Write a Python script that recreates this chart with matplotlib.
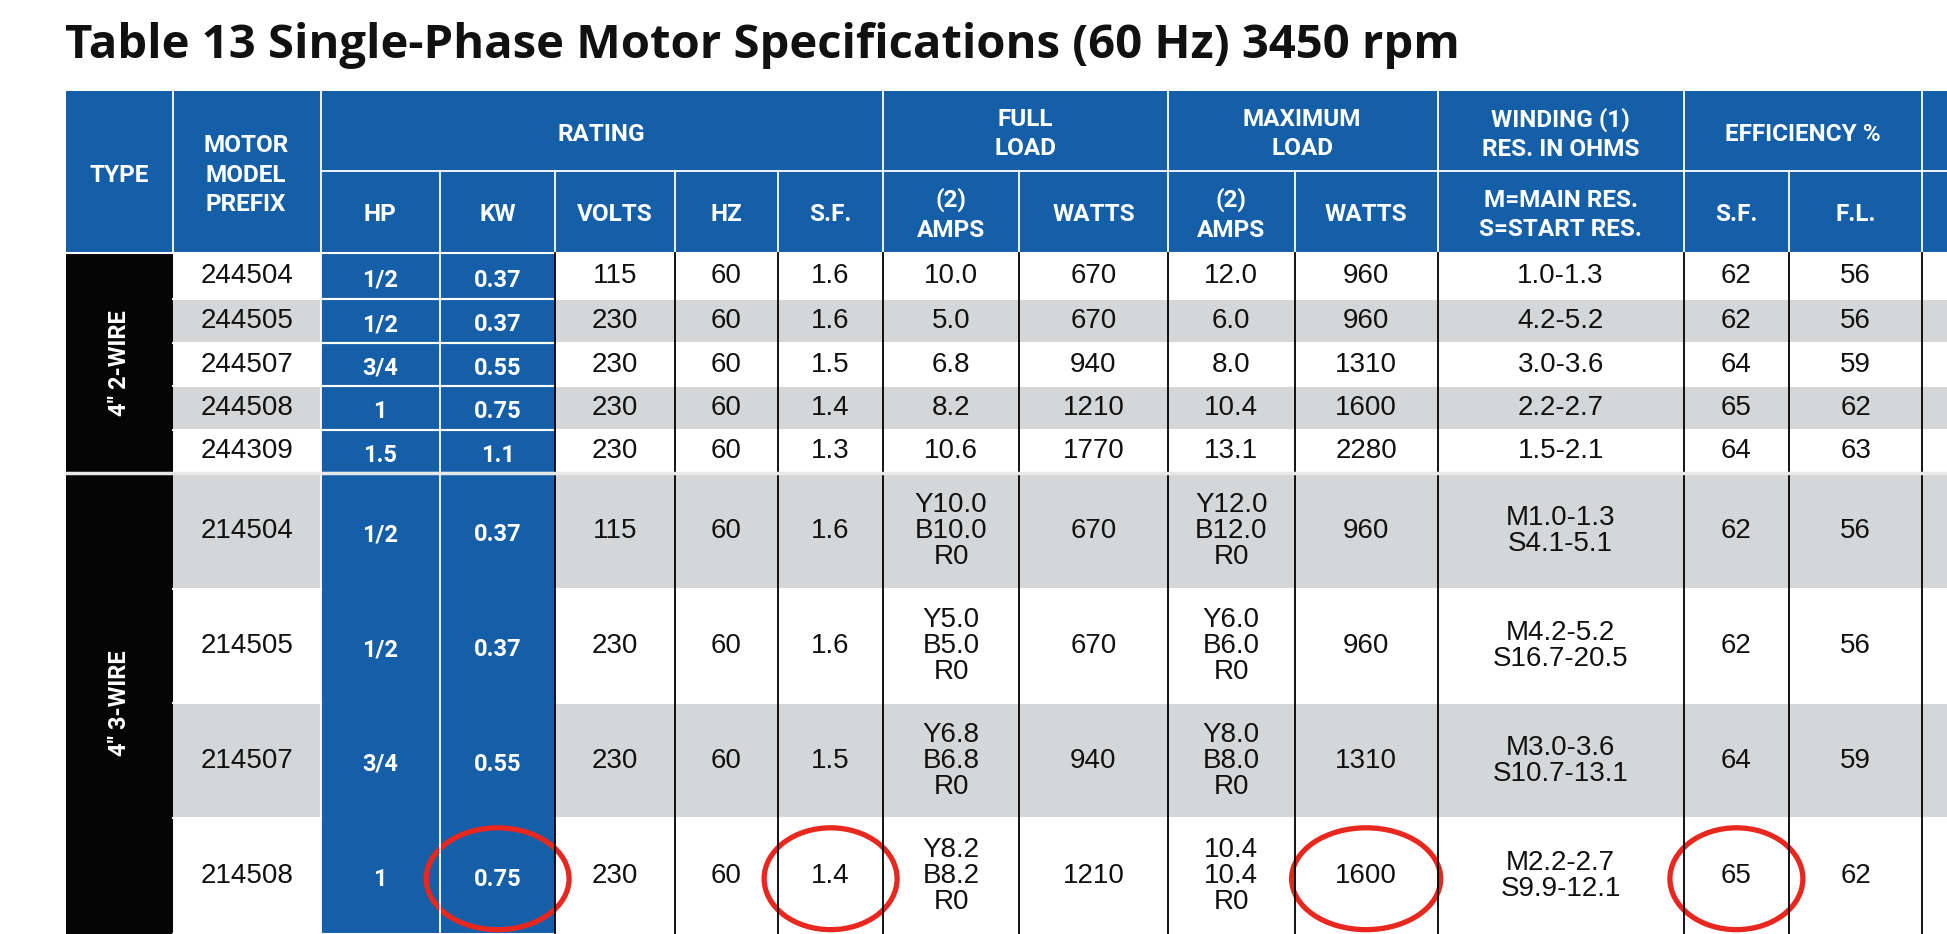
import matplotlib
matplotlib.use("Agg")
import matplotlib.pyplot as plt
from matplotlib.patches import Rectangle, Ellipse

title = "Table 13 Single-Phase Motor Specifications (60 Hz) 3450 rpm"
types = ['4" 2-WIRE', '4" 3-WIRE']
prefix = ["244504", "244505", "244507", "244508", "244309", "214504", "214505", "214507", "214508"]
hp = ["1/2", "1/2", "3/4", "1", "1.5", "1/2", "1/2", "3/4", "1"]
kw = ["0.37", "0.37", "0.55", "0.75", "1.1", "0.37", "0.37", "0.55", "0.75"]
volts = ["115", "230", "230", "230", "230", "115", "230", "230", "230"]
hz = ["60"] * 9
sf = ["1.6", "1.6", "1.5", "1.4", "1.3", "1.6", "1.6", "1.5", "1.4"]
fl_amps = ["10.0", "5.0", "6.8", "8.2", "10.6", "Y10.0\nB10.0\nR0", "Y5.0\nB5.0\nR0", "Y6.8\nB6.8\nR0", "Y8.2\nB8.2\nR0"]
fl_watts = ["670", "670", "940", "1210", "1770", "670", "670", "940", "1210"]
ml_amps = ["12.0", "6.0", "8.0", "10.4", "13.1", "Y12.0\nB12.0\nR0", "Y6.0\nB6.0\nR0", "Y8.0\nB8.0\nR0", "10.4\n10.4\nR0"]
ml_watts = ["960", "960", "1310", "1600", "2280", "960", "960", "1310", "1600"]
winding = ["1.0-1.3", "4.2-5.2", "3.0-3.6", "2.2-2.7", "1.5-2.1", "M1.0-1.3\nS4.1-5.1", "M4.2-5.2\nS16.7-20.5", "M3.0-3.6\nS10.7-13.1", "M2.2-2.7\nS9.9-12.1"]
eff_sf = ["62", "62", "64", "65", "64", "62", "62", "64", "65"]
eff_fl = ["56", "56", "59", "62", "63", "56", "56", "59", "62"]
highlight = [(2, 8), (5, 8), (9, 8), (11, 8)]  # (column index, row index) circled in red

BLUE = "#155EA8"; GRAY = "#D4D6D8"; BLACK = "#050505"
W, H = 1567, 752
fig = plt.figure(figsize=(19.47, 9.34), dpi=100)
ax = fig.add_axes([0, 0, 1, 1])
ax.set_xlim(0, W); ax.set_ylim(H, 0); ax.axis("off")

xs = [53, 139, 258, 354, 447, 543, 626, 711, 820, 940, 1042, 1157, 1355, 1440, 1547, 1567]
ys = [204, 241, 276, 311, 346, 381, 474, 566, 659, 752]
top, mid, hb = 73, 138, 204
HF = dict(color="white", fontweight="bold", fontsize=17.5, family="Roboto", ha="center", va="center", linespacing=1.35)
BF = dict(color="#111", fontsize=20, family="Liberation Sans", ha="center", va="center", linespacing=1.0)

ax.text(52, 37, title, fontsize=34, fontweight="bold", family="Open Sans", va="center", ha="left", color="#111")

ax.add_patch(Rectangle((xs[0], top), xs[-1] - xs[0], hb - top, color=BLUE, lw=0))
for x in xs[1:-1]:
    y0 = mid if x in (354, 447, 543, 626, 820, 1042, 1440) else top
    ax.plot([x, x], [y0, hb], color="white", lw=1.3)
ax.plot([258, W], [mid, mid], color="white", lw=1.3)
ax.plot([xs[0], W], [hb, hb], color="white", lw=1.5)

ax.text(96, 141, "TYPE", **HF)
ax.text(198, 141, "MOTOR\nMODEL\nPREFIX", **HF)
ax.text(484, 108, "RATING", **HF)
ax.text(825, 108, "FULL\nLOAD", **HF)
ax.text(1048, 108, "MAXIMUM\nLOAD", **HF)
ax.text(1256, 108, "WINDING (1)\nRES. IN OHMS", **HF)
ax.text(1451, 108, "EFFICIENCY %", **HF)
subs = ["HP", "KW", "VOLTS", "HZ", "S.F.", "(2)\nAMPS", "WATTS", "(2)\nAMPS", "WATTS", "M=MAIN RES.\nS=START RES.", "S.F.", "F.L."]
for i, s in enumerate(subs):
    ax.text((xs[i + 2] + xs[i + 3]) / 2, 173, s, **HF)

cols = [prefix, hp, kw, volts, hz, sf, fl_amps, fl_watts, ml_amps, ml_watts, winding, eff_sf, eff_fl]
grays = [1, 3, 5, 7]
for r in range(9):
    y0, y1 = ys[r], ys[r + 1]
    if r in grays:
        ax.add_patch(Rectangle((xs[1], y0), W - xs[1], y1 - y0, color=GRAY, lw=0))
    for c, col in enumerate(cols):
        cx = (xs[c + 1] + xs[c + 2]) / 2
        if c in (1, 2):
            ax.add_patch(Rectangle((xs[c + 1], y0), xs[c + 2] - xs[c + 1], y1 - y0, color=BLUE, lw=0))
            ax.text(cx, (y0 + y1) / 2 + 3, col[r], color="white", fontweight="bold", fontsize=17, family="Roboto", ha="center", va="center")
        else:
            ax.text(cx, (y0 + y1) / 2, col[r], **BF)
    if r < 5 or r == 8:
        ax.plot([xs[1], W], [y1, y1], color="white", lw=1.5)
    else:
        ax.plot([xs[1], xs[2]], [y1, y1], color="white", lw=1.5)
        ax.plot([xs[4], W], [y1, y1], color="white", lw=1.5)
    if r < 5:
        ax.plot([xs[2], xs[4]], [y1, y1], color="white", lw=1.5)

for x in xs[4:-1]:
    ax.plot([x, x], [hb, H], color="black", lw=1.3)
ax.plot([xs[2], xs[2]], [hb, H], color="white", lw=1.3)
ax.plot([xs[3], xs[3]], [hb, H], color="white", lw=1.3)

ax.add_patch(Rectangle((xs[0], hb), xs[1] - xs[0], H - hb, color=BLACK, lw=0))
ax.plot([xs[0], W], [ys[5], ys[5]], color="#E8E8E8", lw=2.5)
ax.text(96, (ys[0] + ys[5]) / 2, types[0], rotation=90, **{**HF, "fontsize": 17})
ax.text(96, (ys[5] + ys[9]) / 2, types[1], rotation=90, **{**HF, "fontsize": 17})

for c, r in highlight:
    cx = (xs[c + 1] + xs[c + 2]) / 2
    w = min(120, xs[c + 2] - xs[c + 1] + 22)
    ax.add_patch(Ellipse((cx, (ys[r] + ys[r + 1]) / 2 + 2), w, 82, fill=False, ec="#E8281E", lw=3.8))

fig.savefig("out.png", dpi=100)
